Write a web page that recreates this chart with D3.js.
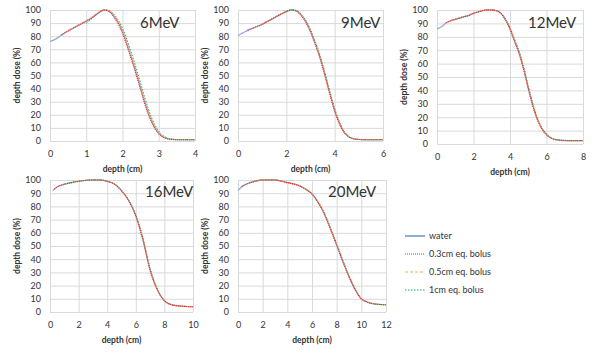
<!DOCTYPE html>
<html>
<head>
<meta charset="utf-8">
<script src="https://cdn.jsdelivr.net/npm/d3@7"></script>
<style>
  body { margin: 0; background: #fff; }
  svg { display: block; }
  text { font-family: Lato, "Open Sans", sans-serif; fill: #333; }
</style>
</head>
<body>
<svg id="chart" width="600" height="353"></svg>
<script>
var seriesNames = ["water", "0.3cm eq. bolus", "0.5cm eq. bolus", "1cm eq. bolus"];

// 6MeV
var depth6 = [0,0.1,0.2,0.3,0.4,0.5,0.6,0.7,0.8,0.9,1.0,1.1,1.2,1.3,1.4,1.5,1.6,1.7,1.8,1.9,2.0,
              2.1,2.2,2.3,2.4,2.5,2.6,2.7,2.8,2.9,3.0,3.1,3.2,3.3,3.4,3.5,3.6,3.7,3.8,3.9,4.0];
var water6 = [76,77,78.5,80.5,82.5,84,85.5,87,88.5,90,91.5,93,95,97,99,100,99.5,97.5,94,89.5,83.5,
              76,67.5,59,50,40.5,31,22.5,15.5,10,6,3.5,2.2,1.5,1.2,1,1,1,1,1,1];
var b03_6 = [null,null,null,81,82.5,84,85.5,87,88.5,90,91.5,93,95,97,99,100,99.3,97,93,88.5,82,
             74.5,66,57.5,48.5,39,29.5,21,14.5,9,5.5,3.2,2,1.4,1.1,1,1,1,1,1,1];
var b05_6 = [null,null,null,null,null,84.5,86,87.5,89,90.5,92,93.5,95.5,97.5,99.3,100,99.7,98,94.8,90.5,84.5,
             77.5,69,60.5,51.5,42,32.5,24,16.5,10.8,6.5,3.8,2.4,1.6,1.2,1.1,1,1,1,1,1];
var b10_6 = [null,null,null,null,null,null,null,null,null,null,90,92,94.5,97,99,100,99.8,98.5,95.5,91.5,86,
             79,71,62.5,53.5,44,34.5,25.5,18,12,7.5,4.5,2.8,1.8,1.3,1.1,1,1,1,1,1];

// 9MeV
var depth9 = [0,0.2,0.4,0.6,0.8,1.0,1.2,1.4,1.6,1.8,2.0,2.2,2.4,2.6,2.8,3.0,
              3.2,3.4,3.6,3.8,4.0,4.2,4.4,4.6,4.8,5.0,5.2,5.4,5.6,5.8,6.0];
var water9 = [80.5,82.5,84.5,86,87.5,89,91,93,95,97,98.8,100,99.5,96.5,91.5,84,
              74.5,63.5,50.5,36.5,23.5,13.5,6.5,3,1.6,1.2,1,1,1,1,1];
var b03_9 = [null,null,84.5,86,87.5,89,91,93,95,97,98.8,100,99.3,96,90.8,83,
             73.5,62.5,49.5,35.5,22.5,12.8,6.2,2.9,1.6,1.2,1,1,1,1,1];
var b05_9 = [null,null,null,86.2,87.7,89.2,91.2,93.2,95.2,97.2,99,100,99.6,96.8,91.8,84.5,
             75,64.2,51.3,37.3,24.3,14,6.9,3.2,1.7,1.2,1,1,1,1,1];
var b10_9 = [null,null,null,null,null,89.5,91.3,93.3,95.3,97.3,99,100,99.7,97,92.2,85,
             75.7,65,52,38,25,14.5,7.2,3.3,1.7,1.2,1,1,1,1,1];

// 12MeV
var depth12 = [0,0.25,0.5,0.75,1.0,1.25,1.5,1.75,2.0,2.25,2.5,2.75,3.0,3.25,3.5,3.75,4.0,
               4.25,4.5,4.75,5.0,5.25,5.5,5.75,6.0,6.25,6.5,6.75,7.0,7.25,7.5,7.75,8.0];
var water12 = [86,87.5,90.5,92,93,94,95,96,97.5,98.5,99.5,100,100,99.5,97.5,93,86,
               77,68,56,42,29,18.5,11.5,7,4.5,3.2,2.8,2.6,2.5,2.5,2.5,2.5];
var b03_12 = [null,null,90.3,92,93,94,95,96,97.5,98.5,99.5,100,100,99.4,97.3,92.6,85.5,
              76.3,67.2,55.2,41.2,28.3,18,11.2,6.8,4.4,3.2,2.8,2.6,2.5,2.5,2.5,2.5];
var b05_12 = [null,null,90.6,92.1,93.1,94.1,95.1,96.1,97.6,98.6,99.6,100,100,99.6,97.7,93.3,86.5,
              77.6,68.7,56.8,42.8,29.7,19,11.8,7.2,4.6,3.3,2.8,2.6,2.5,2.5,2.5,2.5];
var b10_12 = [null,null,null,null,93.2,94.2,95.2,96.2,97.7,98.7,99.7,100,100,99.7,97.9,93.6,87,
              78.2,69.4,57.5,43.5,30.3,19.5,12.1,7.4,4.7,3.3,2.8,2.6,2.5,2.5,2.5,2.5];

// 16MeV
var depth16 = [0.2,0.3,0.5,1.0,1.5,2.0,2.5,3.0,3.5,4.0,4.5,5.0,5.5,6.0,6.5,7.0,7.5,8.0,8.5,9.0,9.5,10.0];
var water16 = [92,93,94.7,96.7,98,99,99.7,100,100,99,97,92,84.5,73,55,32,17,8.5,5.5,4.6,4.2,4.0];
var b03_16 = [null,93.2,94.8,96.8,98,99,99.7,100,100,99,96.9,91.8,84.2,72.5,54.3,31.4,16.7,8.4,5.5,4.6,4.2,4.0];
var b05_16 = [null,null,94.9,96.9,98.1,99.1,99.7,100,100,99,97,92.1,84.7,73.3,55.5,32.5,17.3,8.6,5.6,4.6,4.2,4.0];
var b10_16 = [null,null,null,97,98.2,99.1,99.8,100,100,99.1,97.1,92.2,84.9,73.6,55.9,32.9,17.5,8.7,5.6,4.6,4.2,4.0];

// 20MeV
var depth20 = [0,0.2,0.3,0.5,1.0,1.5,2.0,2.5,3.0,3.5,4.0,4.5,5.0,5.5,6.0,6.5,7.0,7.5,8.0,8.5,9.0,9.5,10.0,10.5,11.0,11.5,12.0];
var water20 = [92,94,94.8,96,98,99.3,100,100,100,99.2,98,97,95.5,93,89.5,83,74.5,63,51,38.5,27,17,10,7.5,6.2,5.7,5.5];
var b03_20 = [null,null,95,96.1,98,99.3,100,100,100,99.2,98,97,95.4,92.9,89.3,82.7,74.1,62.5,50.5,38,26.6,16.8,9.9,7.4,6.2,5.7,5.5];
var b05_20 = [null,null,null,96.2,98.1,99.4,100,100,100,99.2,98,97,95.5,93.1,89.6,83.2,74.8,63.4,51.4,38.9,27.3,17.2,10.1,7.5,6.2,5.7,5.5];
var b10_20 = [null,null,null,null,98.2,99.4,100,100,100,99.3,98.1,97.1,95.6,93.2,89.7,83.4,75,63.7,51.7,39.2,27.5,17.4,10.2,7.6,6.2,5.7,5.5];

var yTicks = [0,10,20,30,40,50,60,70,80,90,100];

var panels = [
  {title: "6MeV",  depth: depth6,  values: [water6, b03_6, b05_6, b10_6],     xMax: 4,  xTicks: [0,1,2,3,4],
   left: 50,  right: 195, top: 10,  bottom: 141, titleX: 140, titleY: 28},
  {title: "9MeV",  depth: depth9,  values: [water9, b03_9, b05_9, b10_9],     xMax: 6,  xTicks: [0,2,4,6],
   left: 238, right: 383, top: 10,  bottom: 141, titleX: 341, titleY: 28},
  {title: "12MeV", depth: depth12, values: [water12, b03_12, b05_12, b10_12], xMax: 8,  xTicks: [0,2,4,6,8],
   left: 437, right: 583, top: 10,  bottom: 144, titleX: 528, titleY: 28},
  {title: "16MeV", depth: depth16, values: [water16, b03_16, b05_16, b10_16], xMax: 10, xTicks: [0,2,4,6,8,10],
   left: 50,  right: 193, top: 180, bottom: 312, titleX: 145, titleY: 197},
  {title: "20MeV", depth: depth20, values: [water20, b03_20, b05_20, b10_20], xMax: 12, xTicks: [0,2,4,6,8,10,12],
   left: 238, right: 386, top: 180, bottom: 312, titleX: 328, titleY: 197}
];

var styles = [
  {color: "#8eaadb", dash: null,      width: 1.3},
  {color: "#ff2020", dash: "1,1",     width: 1.1},
  {color: "#f4a460", dash: "3,2",     width: 1},
  {color: "#00b050", dash: "1.5,1.5", width: 1}
];
// red drawn last so it sits on top, like the reference
var drawOrder = [0, 3, 2, 1];

var svg = d3.select("#chart");

panels.forEach(function(p) {
  var x = d3.scaleLinear().domain([0, p.xMax]).range([p.left, p.right]);
  var y = d3.scaleLinear().domain([0, 100]).range([p.bottom, p.top]);
  var g = svg.append("g");

  var xAxis = g.append("g")
      .attr("transform", "translate(0," + p.bottom + ")")
      .call(d3.axisBottom(x).tickValues(p.xTicks).tickFormat(d3.format("d"))
        .tickSize(-(p.bottom - p.top)).tickPadding(10));
  var yAxis = g.append("g")
      .attr("transform", "translate(" + p.left + ",0)")
      .call(d3.axisLeft(y).tickValues(yTicks)
        .tickSize(-(p.right - p.left)).tickPadding(9));

  [xAxis, yAxis].forEach(function(a) {
    a.select(".domain").remove();
    a.selectAll("line").attr("stroke", "#d9d9d9");
    a.selectAll("text").attr("font-size", 9).attr("fill", "#333")
      .style("font-family", "Lato, 'Open Sans', sans-serif");
  });

  // axis titles
  g.append("text")
      .attr("x", (p.left + p.right) / 2)
      .attr("y", p.bottom + 31)
      .attr("text-anchor", "middle")
      .attr("font-size", 8.5)
      .attr("font-weight", "bold")
      .text("depth (cm)");
  g.append("text")
      .attr("transform", "translate(" + (p.left - 30) + "," + ((p.top + p.bottom) / 2) + ") rotate(-90)")
      .attr("text-anchor", "middle")
      .attr("font-size", 8.5)
      .attr("font-weight", "bold")
      .text("depth dose (%)");

  var line = d3.line()
      .defined(function(d) { return d[1] != null; })
      .x(function(d) { return x(d[0]); })
      .y(function(d) { return y(d[1]); })
      .curve(d3.curveMonotoneX);

  drawOrder.forEach(function(i) {
    var vals = p.values[i];
    var pts = p.depth.map(function(d, j) { return [d, vals[j]]; });
    g.append("path")
        .datum(pts)
        .attr("fill", "none")
        .attr("stroke", styles[i].color)
        .attr("stroke-width", styles[i].width)
        .attr("stroke-dasharray", styles[i].dash)
        .attr("d", line);
  });

  g.append("text")
      .attr("x", p.titleX)
      .attr("y", p.titleY)
      .attr("font-size", 15)
      .attr("fill", "#222")
      .text(p.title);
});

// legend
var legend = svg.append("g")
  .selectAll("g")
  .data(seriesNames)
  .enter().append("g")
    .attr("transform", function(d, i) { return "translate(405," + (236 + i * 18) + ")"; });

legend.append("line")
    .attr("x1", 0).attr("x2", 20)
    .attr("stroke", function(d, i) { return styles[i].color; })
    .attr("stroke-width", function(d, i) { return i === 0 ? 2 : 1; })
    .attr("stroke-dasharray", function(d, i) { return styles[i].dash; });

legend.append("text")
    .attr("x", 24)
    .attr("dy", "0.35em")
    .attr("font-size", 9)
    .text(function(d) { return d; });
</script>
</body>
</html>
